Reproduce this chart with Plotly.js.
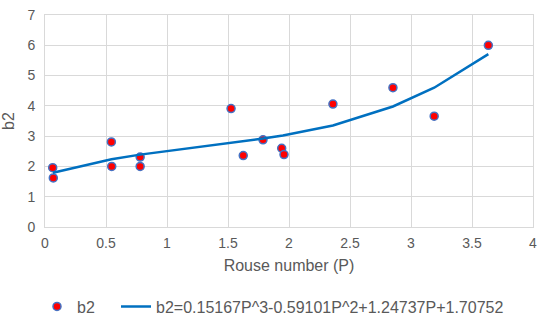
<!DOCTYPE html>
<html>
<head>
<meta charset="utf-8">
<script src="https://cdn.plot.ly/plotly-3.0.1.min.js"></script>
<style>html,body{margin:0;padding:0;background:#fff;}#chart{width:550px;height:321px;}</style>
</head>
<body>
<div id="chart"></div>
<script>
// Observed data points (Rouse number P, b2)
var pointsP  = [0.063, 0.068, 0.544, 0.547, 0.78, 0.78, 1.525, 1.625, 1.787, 1.94, 1.959, 2.36, 2.852, 3.19, 3.634];
var pointsB2 = [1.96, 1.62, 2.81, 2.00, 2.31, 2.00, 3.91, 2.36, 2.88, 2.60, 2.39, 4.06, 4.60, 3.66, 6.00];

// Fitted trend line at the data P values
var fitP  = [0.065, 0.545, 0.78, 1.525, 1.625, 1.787, 1.95, 2.36, 2.852, 3.19, 3.634];
var fitB2 = [1.79, 2.24, 2.39, 2.77, 2.83, 2.92, 3.02, 3.35, 3.98, 4.60, 5.71];

var seriesName = 'b2';
var fitName = 'b2=0.15167P^3-0.59101P^2+1.24737P+1.70752';
var xTitle = 'Rouse number (P)';
var yTitle = 'b2';

var txt = '#595959';
var grid = '#d9d9d9';

var traces = [
  {
    x: pointsP, y: pointsB2, type: 'scatter', mode: 'markers', name: seriesName,
    legend: 'legend',
    marker: {color: '#ff0000', size: 8, line: {color: '#4472c4', width: 1.5}}
  },
  {
    x: fitP, y: fitB2, type: 'scatter', mode: 'lines', name: fitName,
    legend: 'legend2',
    line: {color: '#0070c0', width: 2.5}
  }
];

var legBase = {orientation: 'h', xanchor: 'left', xref: 'container',
               y: 0.045, yanchor: 'middle', yref: 'container',
               font: {size: 16, color: txt}, bgcolor: 'rgba(0,0,0,0)'};

var layout = {
  width: 550, height: 321,
  margin: {l: 45, r: 17, t: 15, b: 94},
  paper_bgcolor: '#fff', plot_bgcolor: '#fff',
  font: {family: 'Liberation Sans, Arial, sans-serif', color: txt, size: 14},
  showlegend: true,
  legend: Object.assign({}, legBase, {x: 37 / 550}),
  legend2: Object.assign({}, legBase, {x: 116 / 550}),
  xaxis: {
    range: [0, 4], dtick: 0.5, tick0: 0, showgrid: true, gridcolor: grid, gridwidth: 1,
    zeroline: false, showline: true, linecolor: grid, mirror: true, ticks: '',
    tickfont: {size: 14, color: txt}, automargin: false, ticklabelstandoff: 3,
    title: {text: xTitle, font: {size: 16, color: txt}, standoff: 10}
  },
  yaxis: {
    range: [0, 7], dtick: 1, tick0: 0, showgrid: true, gridcolor: grid, gridwidth: 1,
    zeroline: false, showline: true, linecolor: grid, mirror: true, ticks: '',
    tickfont: {size: 14, color: txt}, automargin: false, ticklabelstandoff: 6,
    title: {text: yTitle, font: {size: 16, color: txt}, standoff: 8}
  }
};

Plotly.newPlot('chart', traces, layout, {displayModeBar: false, staticPlot: true});
</script>
</body>
</html>
